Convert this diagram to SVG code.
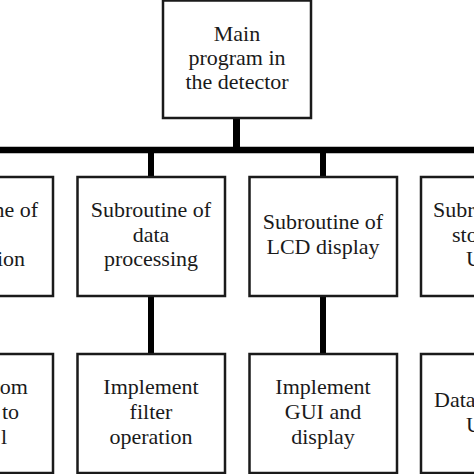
<svg xmlns="http://www.w3.org/2000/svg" width="474" height="474" viewBox="0 0 474 474">
<style>
.box{fill:#fff;stroke:#1a1a1a;stroke-width:2.5}
.c{stroke:#000;fill:none}
text{font-family:"Liberation Serif","Times New Roman",serif;font-size:22px;fill:#1a1a1a}
.m{text-anchor:middle}
.e{text-anchor:end}
</style>
<rect width="474" height="474" fill="#fff"/>
<g id="connectors">
<line class="c" x1="236.5" y1="117" x2="236.5" y2="150" stroke-width="7"/>
<line class="c" x1="0" y1="150" x2="474" y2="150" stroke-width="6.5"/>
<line class="c" x1="151" y1="150" x2="151" y2="178" stroke-width="6"/>
<line class="c" x1="323" y1="150" x2="323" y2="178" stroke-width="6"/>
<line class="c" x1="151" y1="296" x2="151" y2="355" stroke-width="6"/>
<line class="c" x1="323" y1="296" x2="323" y2="355" stroke-width="6"/>
</g>
<g id="main">
<rect class="box" x="163" y="0.5" width="148" height="117.5"/>
<text class="m" x="237" y="40.7">Main</text>
<text class="m" x="237" y="65">program in</text>
<text class="m" x="237" y="89.3">the detector</text>
</g>
<g id="sub1">
<rect class="box" x="-95" y="177" width="148" height="119"/>
<text class="e" x="38" y="217">ne of</text>
<text class="e" x="25" y="266">ion</text>
</g>
<g id="sub2">
<rect class="box" x="77.5" y="177" width="147.5" height="119"/>
<text class="m" x="151" y="217">Subroutine of</text>
<text class="m" x="151" y="241.5">data</text>
<text class="m" x="151" y="266">processing</text>
</g>
<g id="sub3">
<rect class="box" x="249.5" y="177" width="147.5" height="119"/>
<text class="m" x="323" y="229">Subroutine of</text>
<text class="m" x="323" y="254">LCD display</text>
</g>
<g id="sub4">
<rect class="box" x="421" y="177" width="148" height="119"/>
<text x="433" y="217">Subr</text>
<text x="452" y="241.5">sto</text>
<text x="466" y="266">U</text>
</g>
<g id="task1">
<rect class="box" x="-95" y="354" width="148" height="119"/>
<text class="e" x="28" y="394">rom</text>
<text class="e" x="19" y="419">to</text>
<text class="e" x="7" y="444">l</text>
</g>
<g id="task2">
<rect class="box" x="77.5" y="354" width="147.5" height="119"/>
<text class="m" x="151" y="394">Implement</text>
<text class="m" x="151" y="419">filter</text>
<text class="m" x="151" y="444">operation</text>
</g>
<g id="task3">
<rect class="box" x="249.5" y="354" width="147.5" height="119"/>
<text class="m" x="323" y="394">Implement</text>
<text class="m" x="323" y="419">GUI and</text>
<text class="m" x="323" y="444">display</text>
</g>
<g id="task4">
<rect class="box" x="421" y="354" width="148" height="119"/>
<text x="434" y="407">Data</text>
<text x="466" y="432">U</text>
</g>
</svg>
